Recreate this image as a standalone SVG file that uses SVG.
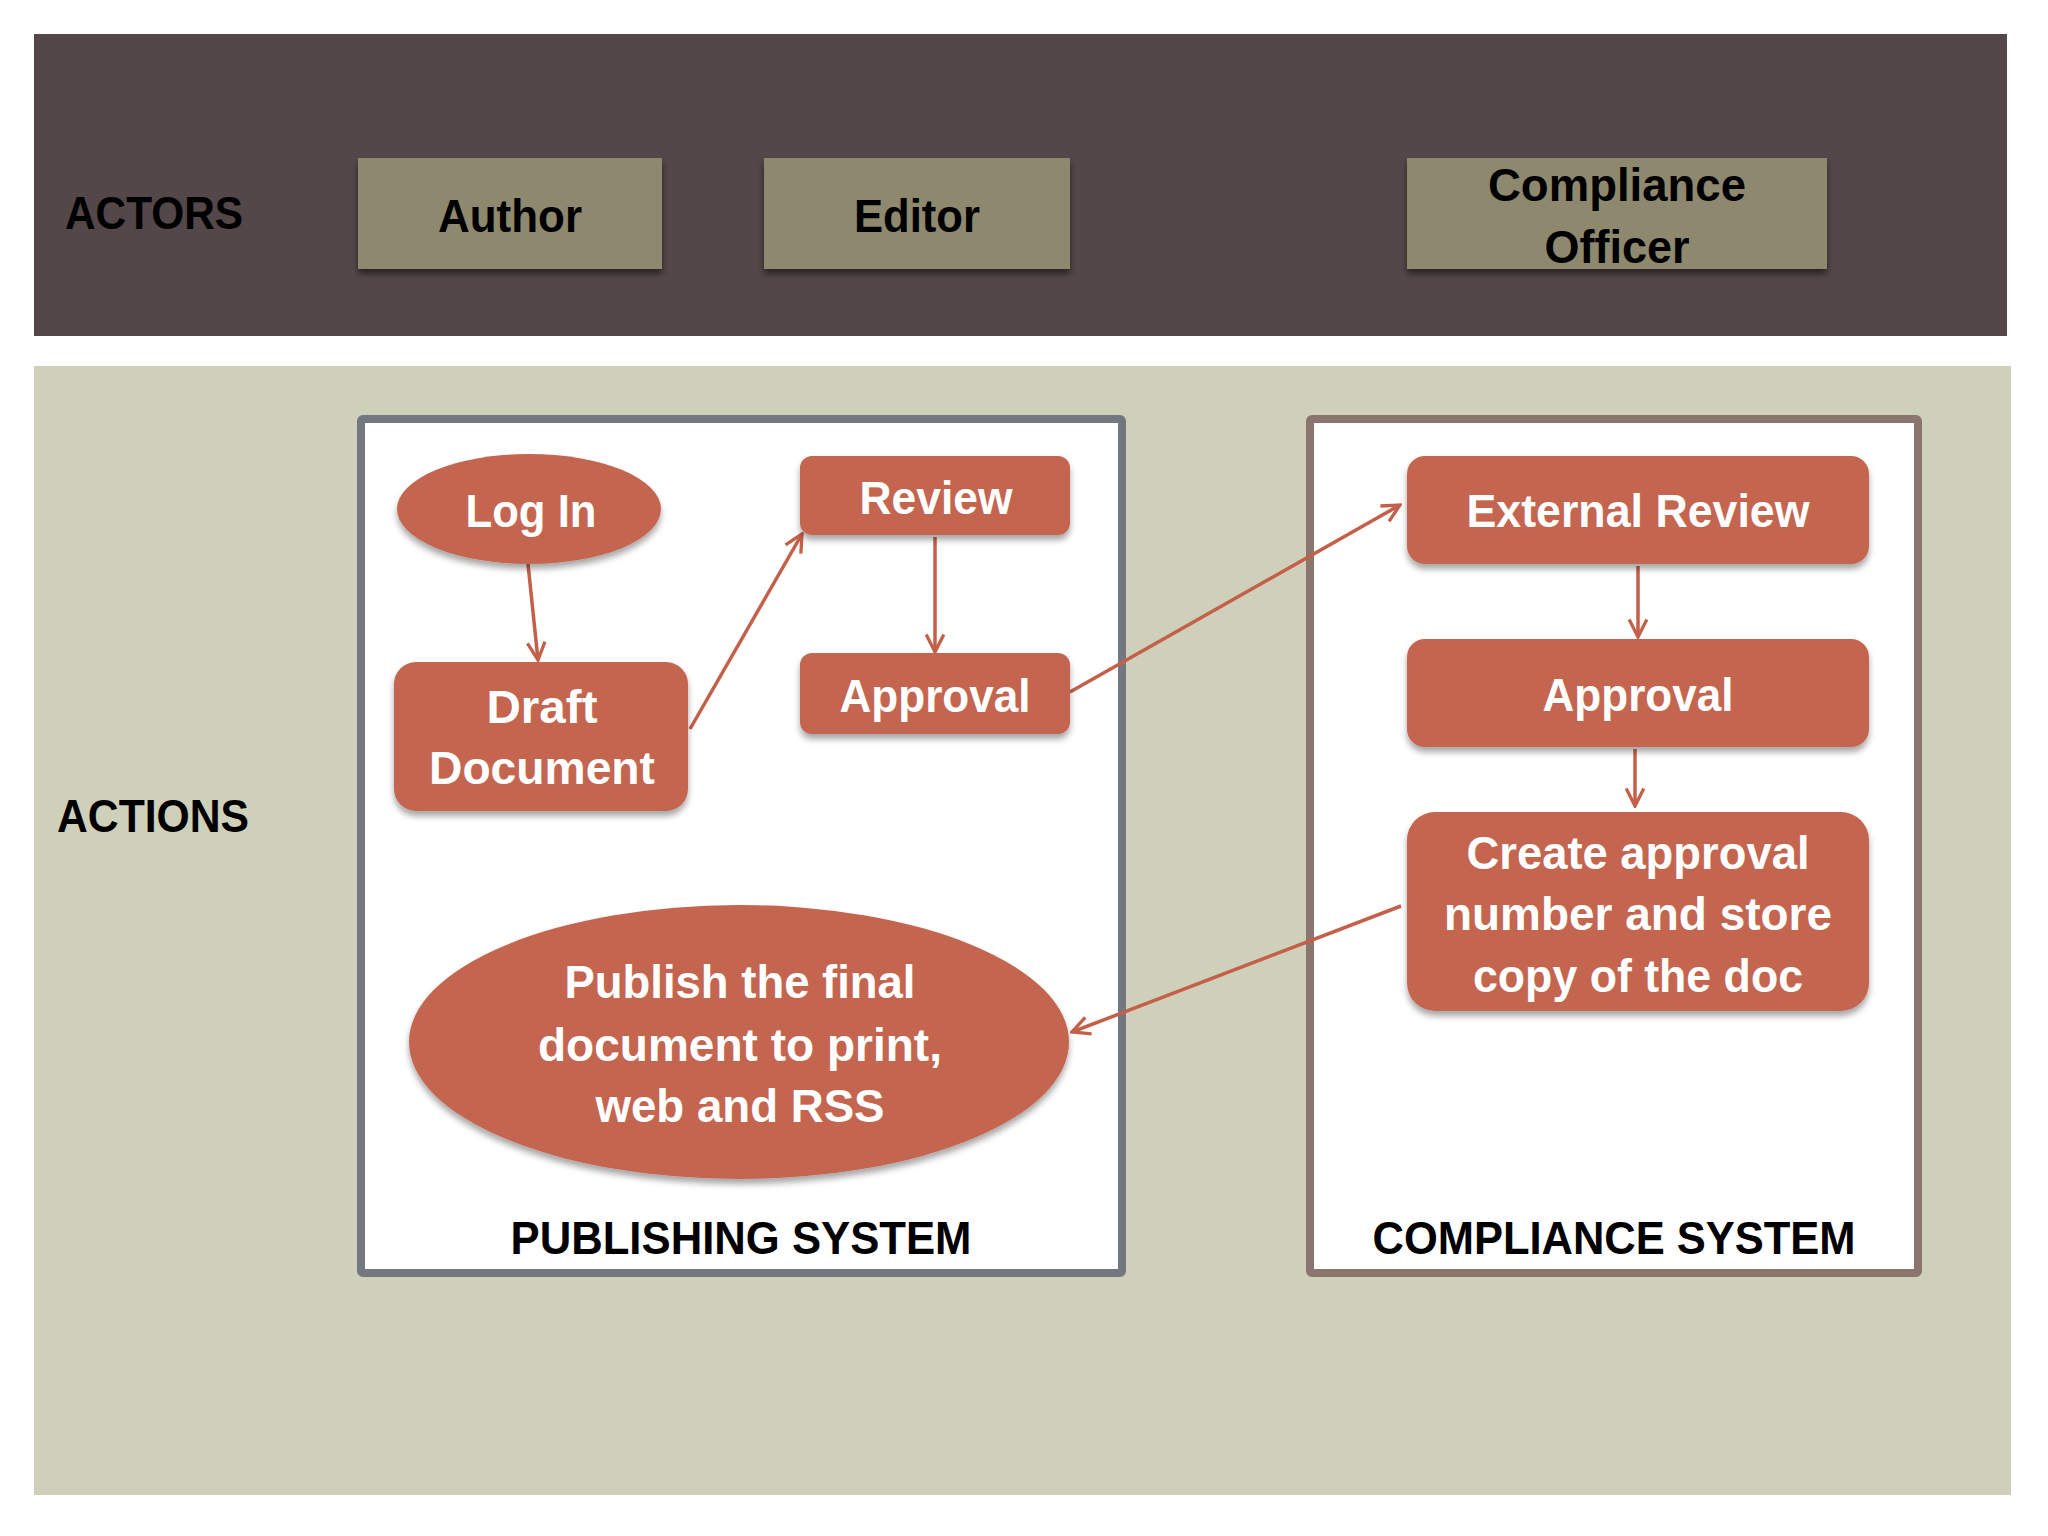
<svg xmlns="http://www.w3.org/2000/svg" width="2048" height="1536" viewBox="0 0 2048 1536">
<style>
.actor{fill:#8E896E}
.node{fill:#C4654F}
.lbl{font-family:"Liberation Sans Narrow","Liberation Sans",Arial,sans-serif;font-weight:bold;font-size:46px;text-anchor:middle}
.w{fill:#FFFFFF}
.k{fill:#000000}
.conn{stroke:#C4604A;stroke-width:3.5;fill:none;marker-end:url(#arr)}
</style>
<defs>
<filter id="sh" x="-10%" y="-10%" width="120%" height="130%">
<feDropShadow dx="0" dy="5" stdDeviation="3" flood-color="#000" flood-opacity="0.35"/>
</filter>
<filter id="sh2" x="-10%" y="-10%" width="120%" height="130%">
<feDropShadow dx="0" dy="5" stdDeviation="3" flood-color="#000" flood-opacity="0.5"/>
</filter>
<marker id="arr" viewBox="0 0 20 20" refX="18" refY="10" markerWidth="22" markerHeight="22" markerUnits="userSpaceOnUse" orient="auto">
<path d="M2,2 L18,10 L2,18" fill="none" stroke="#C4604A" stroke-width="3"/>
</marker>
</defs>
<rect width="2048" height="1536" fill="#FFFFFF"/>
<g id="actors-band">
<rect x="34" y="34" width="1973" height="302" fill="#534749"/>
<text class="lbl k" x="154" y="229" textLength="178" lengthAdjust="spacingAndGlyphs">ACTORS</text>
</g>
<g id="actor-author">
<rect class="actor" x="358" y="158" width="304" height="111" filter="url(#sh2)"/>
<text class="lbl k" x="510" y="232" textLength="144" lengthAdjust="spacingAndGlyphs">Author</text>
</g>
<g id="actor-editor">
<rect class="actor" x="764" y="158" width="306" height="111" filter="url(#sh2)"/>
<text class="lbl k" x="917" y="232" textLength="126" lengthAdjust="spacingAndGlyphs">Editor</text>
</g>
<g id="actor-compliance">
<rect class="actor" x="1407" y="158" width="420" height="111" filter="url(#sh2)"/>
<text class="lbl k" x="1617" y="201" textLength="258" lengthAdjust="spacingAndGlyphs">Compliance</text>
<text class="lbl k" x="1617" y="263" textLength="145" lengthAdjust="spacingAndGlyphs">Officer</text>
</g>
<g id="actions-band">
<rect x="34" y="366" width="1977" height="1129" fill="#CFD0BA"/>
<text class="lbl k" x="153" y="832" textLength="192" lengthAdjust="spacingAndGlyphs">ACTIONS</text>
</g>
<g id="publishing-system">
<rect x="361" y="419" width="761" height="854" fill="#FFFFFF" stroke="#737880" stroke-width="8" rx="2"/>
<text class="lbl k" x="741" y="1254" textLength="461" lengthAdjust="spacingAndGlyphs">PUBLISHING SYSTEM</text>
</g>
<g id="compliance-system">
<rect x="1310" y="419" width="608" height="854" fill="#FFFFFF" stroke="#8A766E" stroke-width="8" rx="2"/>
<text class="lbl k" x="1614" y="1254" textLength="483" lengthAdjust="spacingAndGlyphs">COMPLIANCE SYSTEM</text>
</g>
<g id="connectors">
<line class="conn" x1="528" y1="564" x2="538" y2="660"/>
<line class="conn" x1="690" y1="729" x2="802" y2="534"/>
<line class="conn" x1="935" y1="537" x2="935" y2="652"/>
<line class="conn" x1="1070" y1="692" x2="1400" y2="505"/>
<line class="conn" x1="1638" y1="566" x2="1638" y2="637"/>
<line class="conn" x1="1635" y1="749" x2="1635" y2="806"/>
<line class="conn" x1="1401" y1="906" x2="1072" y2="1032"/>
</g>
<g id="node-login">
<ellipse class="node" cx="529" cy="509" rx="132" ry="55" filter="url(#sh)"/>
<text class="lbl w" x="531" y="527" textLength="131" lengthAdjust="spacingAndGlyphs">Log In</text>
</g>
<g id="node-draft">
<rect class="node" x="394" y="662" width="294" height="149" rx="22" filter="url(#sh)"/>
<text class="lbl w" x="542" y="723" textLength="111" lengthAdjust="spacingAndGlyphs">Draft</text>
<text class="lbl w" x="542" y="784" textLength="226" lengthAdjust="spacingAndGlyphs">Document</text>
</g>
<g id="node-review">
<rect class="node" x="800" y="456" width="270" height="79" rx="12" filter="url(#sh)"/>
<text class="lbl w" x="936" y="514" textLength="153" lengthAdjust="spacingAndGlyphs">Review</text>
</g>
<g id="node-approval-1">
<rect class="node" x="800" y="653" width="270" height="81" rx="12" filter="url(#sh)"/>
<text class="lbl w" x="935" y="712" textLength="191" lengthAdjust="spacingAndGlyphs">Approval</text>
</g>
<g id="node-external-review">
<rect class="node" x="1407" y="456" width="462" height="108" rx="18" filter="url(#sh)"/>
<text class="lbl w" x="1638" y="527" textLength="343" lengthAdjust="spacingAndGlyphs">External Review</text>
</g>
<g id="node-approval-2">
<rect class="node" x="1407" y="639" width="462" height="108" rx="18" filter="url(#sh)"/>
<text class="lbl w" x="1638" y="711" textLength="191" lengthAdjust="spacingAndGlyphs">Approval</text>
</g>
<g id="node-create">
<rect class="node" x="1407" y="812" width="462" height="199" rx="28" filter="url(#sh)"/>
<text class="lbl w" x="1638" y="869" textLength="343" lengthAdjust="spacingAndGlyphs">Create approval</text>
<text class="lbl w" x="1638" y="930" textLength="388" lengthAdjust="spacingAndGlyphs">number and store</text>
<text class="lbl w" x="1638" y="992" textLength="330" lengthAdjust="spacingAndGlyphs">copy of the doc</text>
</g>
<g id="node-publish">
<ellipse class="node" cx="739" cy="1042" rx="330" ry="137" filter="url(#sh)"/>
<text class="lbl w" x="740" y="998" textLength="351" lengthAdjust="spacingAndGlyphs">Publish the final</text>
<text class="lbl w" x="740" y="1061" textLength="404" lengthAdjust="spacingAndGlyphs">document to print,</text>
<text class="lbl w" x="740" y="1122" textLength="289" lengthAdjust="spacingAndGlyphs">web and RSS</text>
</g>
</svg>
